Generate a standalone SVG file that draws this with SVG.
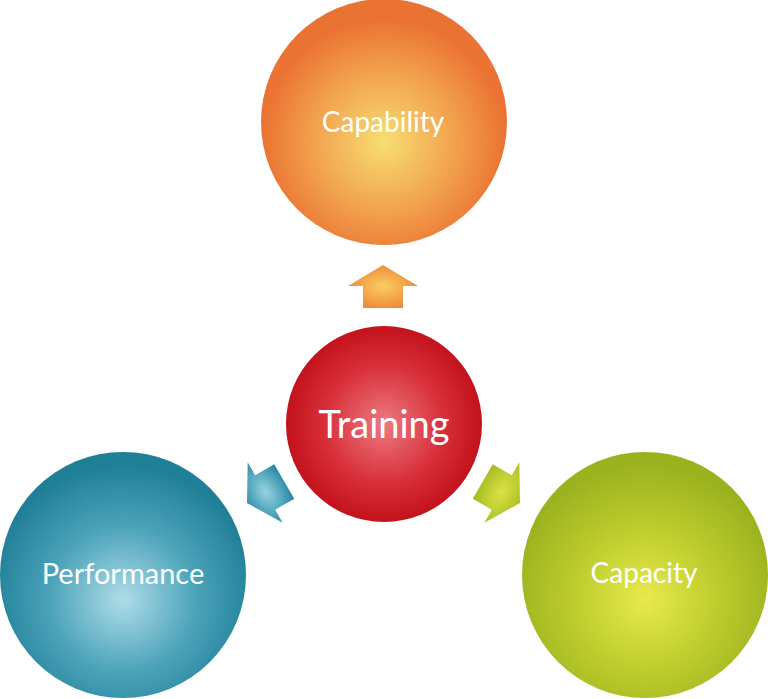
<svg xmlns="http://www.w3.org/2000/svg" width="768" height="699" viewBox="0 0 768 699">
<defs>
<radialGradient id="gOrange" cx="0.5" cy="0.58" r="0.5">
<stop offset="0" stop-color="#F7DE72"/>
<stop offset="0.55" stop-color="#F2A44F"/>
<stop offset="1" stop-color="#EA7232"/>
</radialGradient>
<radialGradient id="gRed" cx="0.5" cy="0.5" r="0.5">
<stop offset="0" stop-color="#EC7A80"/>
<stop offset="0.6" stop-color="#D8303A"/>
<stop offset="1" stop-color="#C3121C"/>
</radialGradient>
<radialGradient id="gBlue" cx="0.5" cy="0.6" r="0.55">
<stop offset="0" stop-color="#AEDDE8"/>
<stop offset="0.55" stop-color="#4AA2B9"/>
<stop offset="1" stop-color="#1F7F97"/>
</radialGradient>
<radialGradient id="gGreen" cx="0.5" cy="0.6" r="0.55">
<stop offset="0" stop-color="#E8EA4C"/>
<stop offset="0.55" stop-color="#BCCB2C"/>
<stop offset="1" stop-color="#9BB21F"/>
</radialGradient>
<radialGradient id="aOrange" cx="0.5" cy="0.5" r="0.55">
<stop offset="0" stop-color="#F9CE60"/>
<stop offset="1" stop-color="#EF8638"/>
</radialGradient>
<radialGradient id="aBlue" cx="0.5" cy="0.5" r="0.55">
<stop offset="0" stop-color="#95D2DF"/>
<stop offset="1" stop-color="#2689A3"/>
</radialGradient>
<radialGradient id="aGreen" cx="0.5" cy="0.5" r="0.55">
<stop offset="0" stop-color="#DCE244"/>
<stop offset="1" stop-color="#A6BC24"/>
</radialGradient>
<path id="arrow" d="M0,0 L35,21 L20,21 L20,43 L-20,43 L-20,21 L-35,21 Z"/>
</defs>
<style>
.lbl{font-family:"Lato","Open Sans","Liberation Sans",sans-serif;fill:#ffffff;text-anchor:middle;dominant-baseline:central}
</style>
<rect width="768" height="699" fill="#ffffff"/>
<g id="connectors">
<use href="#arrow" fill="url(#aOrange)" transform="translate(383,265)"/>
<use href="#arrow" fill="url(#aBlue)" transform="translate(247,503) rotate(-120)"/>
<use href="#arrow" fill="url(#aGreen)" transform="translate(520,503) rotate(120)"/>
</g>
<g id="capability">
<circle cx="384" cy="122" r="123" fill="url(#gOrange)"/>
<text class="lbl" x="383" y="121" font-size="28">Capability</text>
</g>
<g id="training">
<circle cx="384" cy="424" r="98" fill="url(#gRed)"/>
<text class="lbl" x="384" y="423" font-size="38">Training</text>
</g>
<g id="performance">
<circle cx="123" cy="575" r="123" fill="url(#gBlue)"/>
<text class="lbl" x="123" y="572" font-size="29">Performance</text>
</g>
<g id="capacity">
<circle cx="645" cy="575" r="123" fill="url(#gGreen)"/>
<text class="lbl" x="644" y="572" font-size="28">Capacity</text>
</g>
</svg>
